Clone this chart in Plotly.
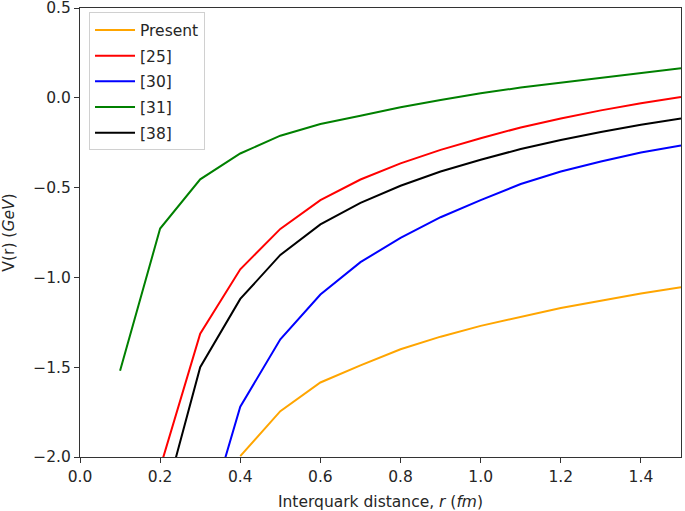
import plotly.graph_objects as go

r_present = [0.4, 0.5, 0.6, 0.7, 0.8, 0.9, 1.0, 1.1, 1.2, 1.3, 1.4, 1.5]
v_present = [-1.995, -1.745, -1.585, -1.49, -1.40, -1.33, -1.27, -1.22, -1.17, -1.13, -1.09, -1.055]

r_25 = [0.2, 0.3, 0.4, 0.5, 0.6, 0.7, 0.8, 0.9, 1.0, 1.1, 1.2, 1.3, 1.4, 1.5]
v_25 = [-2.06, -1.313, -0.955, -0.73, -0.57, -0.455, -0.365, -0.29, -0.225, -0.165, -0.115, -0.07, -0.03, 0.005]

r_30 = [0.3, 0.4, 0.5, 0.6, 0.7, 0.8, 0.9, 1.0, 1.1, 1.2, 1.3, 1.4, 1.5]
v_30 = [-2.48, -1.72, -1.345, -1.095, -0.915, -0.78, -0.665, -0.57, -0.48, -0.41, -0.355, -0.305, -0.265]

r_31 = [0.1, 0.2, 0.3, 0.4, 0.5, 0.6, 0.7, 0.8, 0.9, 1.0, 1.1, 1.2, 1.3, 1.4, 1.5]
v_31 = [-1.52, -0.728, -0.454, -0.31, -0.211, -0.146, -0.10, -0.053, -0.012, 0.025, 0.057, 0.085, 0.112, 0.138, 0.165]

r_38 = [0.2, 0.3, 0.4, 0.5, 0.6, 0.7, 0.8, 0.9, 1.0, 1.1, 1.2, 1.3, 1.4, 1.5]
v_38 = [-2.33, -1.50, -1.12, -0.875, -0.705, -0.585, -0.49, -0.41, -0.345, -0.285, -0.235, -0.19, -0.15, -0.115]

series = [
    ("Present", r_present, v_present, "orange"),
    ("[25]", r_25, v_25, "red"),
    ("[30]", r_30, v_30, "blue"),
    ("[31]", r_31, v_31, "green"),
    ("[38]", r_38, v_38, "black"),
]

FS = 15.5

fig = go.Figure()
for i, (name, x, y, c) in enumerate(series):
    fig.add_trace(go.Scatter(x=x, y=y, mode="lines", name=name, legendgroup=f"g{i}",
                             line=dict(color=c, width=2)))

axis_common = dict(
    showline=True, linecolor="#333333", linewidth=1, mirror=True,
    ticks="outside", ticklen=5, tickcolor="#333333", showgrid=False,
    zeroline=False, automargin=False, ticklabeloverflow="allow",
    tickfont=dict(family="DejaVu Sans", size=FS, color="#262626"),
)

fig.update_layout(
    width=685, height=511,
    margin=dict(l=80, r=4, t=8, b=54),
    paper_bgcolor="white", plot_bgcolor="white",
    font=dict(family="DejaVu Sans", size=FS, color="#262626"),
    xaxis=dict(range=[0, 1.5], tickvals=[0.0, 0.2, 0.4, 0.6, 0.8, 1.0, 1.2, 1.4],
               tickformat=".1f",
               title=dict(text="Interquark distance, <i>r</i> (<i>fm</i>)",
                          font=dict(size=FS)),
               **axis_common),
    yaxis=dict(range=[-2.0, 0.5], tickvals=[-2.0, -1.5, -1.0, -0.5, 0.0, 0.5],
               tickformat=".1f",
               title=dict(text="V(r) (<i>GeV</i>)", font=dict(size=FS)),
               **axis_common),
    legend=dict(x=0.015, y=0.99, xanchor="left", yanchor="top",
                bgcolor="rgba(255,255,255,0.8)", bordercolor="#d0d0d0", borderwidth=1,
                font=dict(size=FS), tracegroupgap=2.5, itemwidth=40),
    showlegend=True,
)

fig.write_html("out.html")
